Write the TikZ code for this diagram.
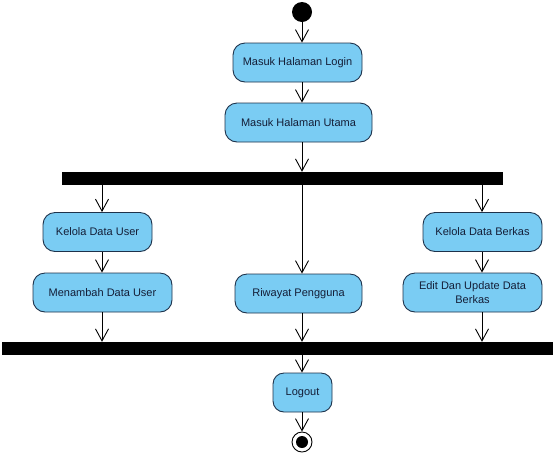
\documentclass[tikz,border=0pt]{standalone}
\usepackage{fontspec}
\setmainfont{Liberation Sans}
\usetikzlibrary{arrows.meta}
\definecolor{actfill}{RGB}{122,204,243}
\definecolor{actdraw}{RGB}{30,50,75}
\definecolor{acttext}{RGB}{20,30,55}
\tikzset{
  act/.style={draw=actdraw, fill=actfill, rounded corners=12pt, line width=0.9pt,
    inner sep=0pt, minimum height=39pt, font=\fontsize{11}{14}\selectfont, text=acttext, align=center},
  bar/.style={fill=black, draw=none, inner sep=0pt, minimum height=13pt},
  flow/.style={-{Straight Barb[length=12pt,width=13pt,line width=0.9pt]}, line width=0.9pt, draw=black}
}
\begin{document}
\begin{tikzpicture}[x=1pt,y=-1pt]
\useasboundingbox (0,0) rectangle (556,456);
\node[circle, fill=black, minimum size=20pt, inner sep=0pt] (start) at (302,12) {};
\node[act, minimum width=129pt] (login) at (297.5,62.5) {Masuk Halaman Login};
\node[act, minimum width=147pt] (utama) at (298.5,122.5) {Masuk Halaman Utama};
\node[bar, minimum width=441pt] (fork) at (282.5,178.5) {};
\node[act, minimum width=109pt] (kuser) at (97.5,232) {Kelola Data User};
\node[act, minimum width=139pt] (tuser) at (102.5,292.5) {Menambah Data User};
\node[act, minimum width=127pt] (riwayat) at (298.5,293.5) {Riwayat Pengguna};
\node[act, minimum width=119pt] (kberkas) at (482.5,232) {Kelola Data Berkas};
\node[act, minimum width=139pt] (eberkas) at (472.5,292.5) {Edit Dan Update Data\\Berkas};
\node[bar, minimum width=551pt] (join) at (277.5,348.5) {};
\node[act, minimum width=59pt, rounded corners=11pt] (logout) at (302.5,392.5) {Logout};
\node[circle, draw=black, line width=0.9pt, minimum size=20pt, inner sep=0pt] (end) at (302,442) {};
\fill[black] (end.center) circle (6pt);
\coordinate (cx) at (302,0);
\coordinate (lx) at (102,0);
\coordinate (rx) at (482,0);
\draw[flow] (start) -- (start |- login.north);
\draw[flow] (login.south -| cx) -- (utama.north -| cx);
\draw[flow] (utama.south -| cx) -- (fork.north -| cx);
\draw[flow] (fork.south -| lx) -- (kuser.north -| lx);
\draw[flow] (kuser.south -| lx) -- (tuser.north -| lx);
\draw[flow] (tuser.south -| lx) -- (join.north -| lx);
\draw[flow] (fork.south -| cx) -- (riwayat.north -| cx);
\draw[flow] (riwayat.south -| cx) -- (join.north -| cx);
\draw[flow] (fork.south -| rx) -- (kberkas.north -| rx);
\draw[flow] (kberkas.south -| rx) -- (eberkas.north -| rx);
\draw[flow] (eberkas.south -| rx) -- (join.north -| rx);
\draw[flow] (join.south -| cx) -- (logout.north -| cx);
\draw[flow] (logout.south -| cx) -- (end.north);
\end{tikzpicture}
\end{document}
